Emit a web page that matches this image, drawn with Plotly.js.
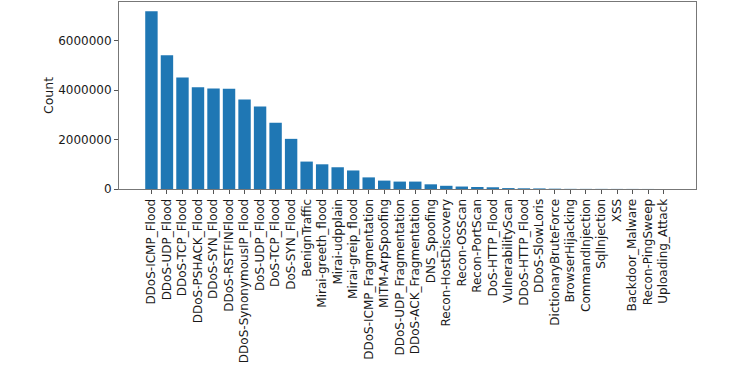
<!DOCTYPE html>
<html>
<head>
<meta charset="utf-8">
<script src="https://cdn.plot.ly/plotly-3.0.1.min.js"></script>
<style>html,body{margin:0;padding:0;background:#fff;}#chart{width:752px;height:371px;}</style>
</head>
<body>
<div id="chart"></div>
<script>
const categories = [
  "DDoS-ICMP_Flood","DDoS-UDP_Flood","DDoS-TCP_Flood","DDoS-PSHACK_Flood","DDoS-SYN_Flood",
  "DDoS-RSTFINFlood","DDoS-SynonymousIP_Flood","DoS-UDP_Flood","DoS-TCP_Flood","DoS-SYN_Flood",
  "BenignTraffic","Mirai-greeth_flood","Mirai-udpplain","Mirai-greip_flood","DDoS-ICMP_Fragmentation",
  "MITM-ArpSpoofing","DDoS-UDP_Fragmentation","DDoS-ACK_Fragmentation","DNS_Spoofing","Recon-HostDiscovery",
  "Recon-OSScan","Recon-PortScan","DoS-HTTP_Flood","VulnerabilityScan","DDoS-HTTP_Flood",
  "DDoS-SlowLoris","DictionaryBruteForce","BrowserHijacking","CommandInjection","SqlInjection",
  "XSS","Backdoor_Malware","Recon-PingSweep","Uploading_Attack"
];
const counts = [
  7200000, 5410000, 4510000, 4120000, 4070000,
  4060000, 3620000, 3340000, 2680000, 2030000,
  1110000, 1000000, 880000, 750000, 470000,
  340000, 300000, 300000, 190000, 130000,
  100000, 80000, 70000, 37000, 28000,
  23000, 13000, 6000, 5000, 5000,
  3800, 3200, 2200, 1200
];
const yTicks = [0, 2000000, 4000000, 6000000];

const FONT = 'DejaVu Sans, sans-serif';
const trace = {
  type: 'bar',
  x: categories,
  y: counts,
  marker: {color: '#1f77b4', line: {width: 0}},
  hoverinfo: 'x+y'
};

const layout = {
  width: 752, height: 371,
  margin: {l: 119, r: 56, t: 2, b: 182, pad: 0},
  paper_bgcolor: '#fff', plot_bgcolor: '#fff',
  bargap: 0.2,
  showlegend: false,
  font: {family: FONT, size: 12, color: '#1a1a1a'},
  xaxis: {
    type: 'category',
    range: [-2.09, 35.09],
    tickangle: -90,
    ticks: 'outside', ticklen: 4, tickcolor: '#555', tickwidth: 1,
    showline: true, mirror: true, linecolor: '#777', linewidth: 1,
    showgrid: false, zeroline: false,
    tickfont: {family: FONT, size: 12, color: '#1a1a1a'},
    automargin: false
  },
  yaxis: {
    range: [0, 7570000],
    tickvals: yTicks,
    ticktext: yTicks.map(v => String(v)),
    ticks: 'outside', ticklen: 4, tickcolor: '#555', tickwidth: 1,
    showline: true, mirror: true, linecolor: '#777', linewidth: 1,
    showgrid: false, zeroline: false,
    tickfont: {family: FONT, size: 12, color: '#1a1a1a'},
    title: {text: 'Count', font: {family: FONT, size: 12.5, color: '#1a1a1a'}, standoff: 1},
    automargin: false
  }
};

Plotly.newPlot('chart', [trace], layout, {displayModeBar: false, staticPlot: true});
</script>
</body>
</html>
